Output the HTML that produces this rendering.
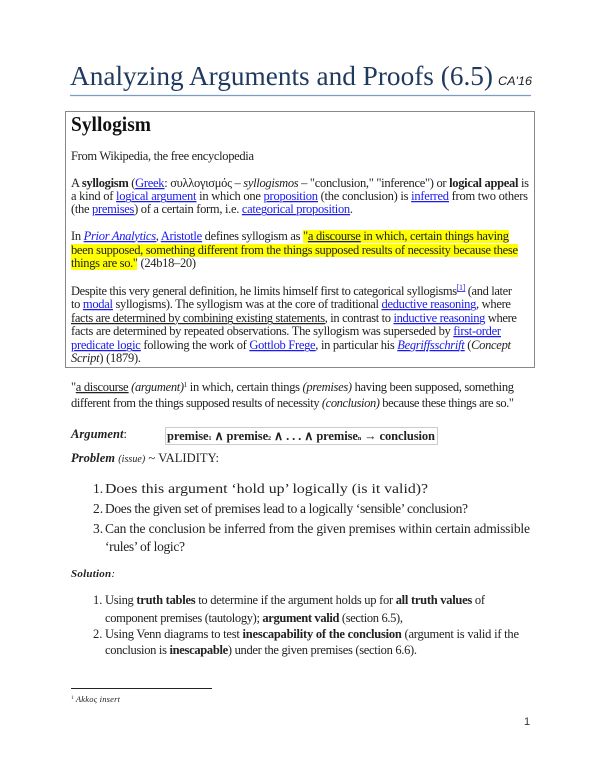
<!DOCTYPE html>
<html><head><meta charset="utf-8"><style>
html,body{margin:0;padding:0;background:#fff;}
svg{display:block}
.s{font-family:"Liberation Serif",serif;font-size:12.5px;fill:#222}
.l{fill:#1a1aee;text-decoration:underline}
.b{font-weight:bold}
.i{font-style:italic}
</style></head><body>
<svg width="600" height="776" viewBox="0 0 600 776" xmlns="http://www.w3.org/2000/svg">
<text x="70" y="85" font-family="Liberation Serif, serif" font-size="27" fill="#1f3a5f" textLength="423" lengthAdjust="spacingAndGlyphs">Analyzing Arguments and Proofs (6.5)</text>
<text x="498" y="85" font-family="Liberation Sans, sans-serif" font-size="12" font-style="italic" fill="#222" textLength="34" lengthAdjust="spacingAndGlyphs">CA'16</text>
<line x1="70" y1="95.5" x2="531" y2="95.5" stroke="#7a9cc6" stroke-width="1.2"/>
<rect x="65.5" y="111.5" width="469" height="256" fill="none" stroke="#888" stroke-width="1"/>
<text x="71" y="131" font-family="Liberation Serif, serif" font-size="21" font-weight="bold" fill="#111" textLength="80" lengthAdjust="spacingAndGlyphs">Syllogism</text>
<g class="s">
<text x="71" y="160" textLength="183">From Wikipedia, the free encyclopedia</text>
<text x="71" y="187" textLength="458">A <tspan class="b">syllogism</tspan> (<tspan class="l">Greek</tspan>: συλλογισμός – <tspan class="i">syllogismos</tspan> – "conclusion," "inference") or <tspan class="b">logical appeal</tspan> is</text>
<text x="71" y="200" textLength="457">a kind of <tspan class="l">logical argument</tspan> in which one <tspan class="l">proposition</tspan> (the conclusion) is <tspan class="l">inferred</tspan> from two others</text>
<text x="71" y="213" textLength="282">(the <tspan class="l">premises</tspan>) of a certain form, i.e. <tspan class="l">categorical proposition</tspan>.</text>
<rect x="303" y="230" width="206" height="13" fill="#ffff00"/>
<rect x="71" y="244" width="447" height="13" fill="#ffff00"/>
<rect x="71" y="257" width="66" height="13" fill="#ffff00"/>
<text x="71" y="240" textLength="438">In <tspan class="l i">Prior Analytics</tspan>, <tspan class="l">Aristotle</tspan> defines syllogism as "<tspan text-decoration="underline">a discourse</tspan> in which, certain things having</text>
<text x="71" y="254" textLength="447">been supposed, something different from the things supposed results of necessity because these</text>
<text x="71" y="267" textLength="125">things are so." (24b18–20)</text>
<text x="71" y="295" textLength="441">Despite this very general definition, he limits himself first to categorical syllogisms<tspan class="l" font-size="8" dy="-5">[1]</tspan><tspan dy="5"> (and later</tspan></text>
<text x="71" y="308" textLength="440">to <tspan class="l">modal</tspan> syllogisms). The syllogism was at the core of traditional <tspan class="l">deductive reasoning</tspan>, where</text>
<text x="71" y="322" textLength="446"><tspan text-decoration="underline">facts are determined by combining existing statements</tspan>, in contrast to <tspan class="l">inductive reasoning</tspan> where</text>
<text x="71" y="335" textLength="430">facts are determined by repeated observations. The syllogism was superseded by <tspan class="l">first-order</tspan></text>
<text x="71" y="349" textLength="440"><tspan class="l">predicate logic</tspan> following the work of <tspan class="l">Gottlob Frege</tspan>, in particular his <tspan class="l i">Begriffsschrift</tspan> (<tspan class="i">Concept</tspan></text>
<text x="71" y="362" textLength="70"><tspan class="i">Script</tspan>) (1879).</text>
</g>
<g class="s" style="font-size:12.5px">
<text x="71" y="391" textLength="443">"<tspan text-decoration="underline">a discourse</tspan> <tspan class="i">(argument)</tspan><tspan font-size="7" dy="-4">1</tspan><tspan dy="4"> in which, certain things </tspan><tspan class="i">(premises)</tspan> having been supposed, something</text>
<text x="71" y="407" textLength="443">different from the things supposed results of necessity <tspan class="i">(conclusion)</tspan> because these things are so."</text>
<text x="71" y="438" class="b i" textLength="56">Argument<tspan font-weight="normal" font-style="normal">:</tspan></text>
<rect x="165.5" y="427.5" width="272" height="17" fill="none" stroke="#ccc"/>
<text x="167" y="440" class="b" textLength="268">premise<tspan font-size="6">1</tspan> ∧ premise<tspan font-size="6">2</tspan> ∧ . . . ∧ premise<tspan font-size="6">n</tspan> → conclusion</text>
<text x="71" y="462" textLength="148"><tspan class="b i">Problem</tspan> <tspan class="i" font-size="10">(issue)</tspan> ~ VALIDITY:</text>
<g font-size="13.5">
<text x="93" y="493">1.</text><text x="105" y="493" textLength="323" lengthAdjust="spacingAndGlyphs">Does this argument ‘hold up’ logically (is it valid)?</text>
<text x="93" y="513">2.</text><text x="105" y="513" textLength="363">Does the given set of premises lead to a logically ‘sensible’ conclusion?</text>
<text x="93" y="533">3.</text><text x="105" y="533" textLength="425">Can the conclusion be inferred from the given premises within certain admissible</text>
<text x="105" y="551" textLength="80">‘rules’ of logic?</text>
</g>
<text x="71" y="577" class="b i" font-size="11" textLength="44">Solution<tspan font-weight="normal">:</tspan></text>
<g font-size="12.5">
<text x="93" y="604">1.</text><text x="105" y="604" textLength="380">Using <tspan class="b">truth tables</tspan> to determine if the argument holds up for <tspan class="b">all truth values</tspan> of</text>
<text x="105" y="622" textLength="298">component premises (tautology); <tspan class="b">argument valid</tspan> (section 6.5),</text>
<text x="93" y="638">2.</text><text x="105" y="638" textLength="414">Using Venn diagrams to test <tspan class="b">inescapability of the conclusion</tspan> (argument is valid if the</text>
<text x="105" y="654" textLength="312">conclusion is <tspan class="b">inescapable</tspan>) under the given premises (section 6.6).</text>
</g>
</g>
<line x1="71" y1="688.5" x2="212" y2="688.5" stroke="#222" stroke-width="1"/>
<text x="71" y="702" font-family="Liberation Serif, serif" font-size="8.5" fill="#222" textLength="49"><tspan font-size="5" dy="-3">1</tspan><tspan dy="3" font-style="italic"> Akkoς insert</tspan></text>
<text x="524" y="725" font-family="Liberation Sans, sans-serif" font-size="11" fill="#333">1</text>
</svg>
</body></html>
